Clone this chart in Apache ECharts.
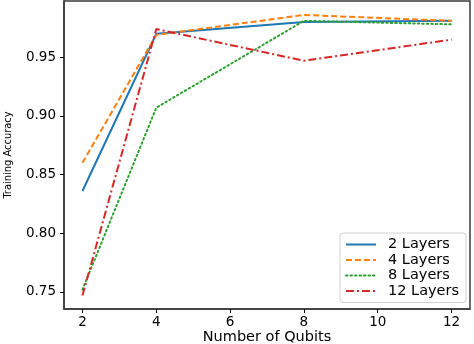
<!DOCTYPE html>
<html>
<head>
<meta charset="utf-8">
<script src="https://cdn.jsdelivr.net/npm/echarts@6/dist/echarts.min.js"></script>
<style>
html,body{margin:0;padding:0;background:#fff;}
#chart{width:474px;height:344px;}
</style>
</head>
<body>
<div id="chart"></div>
<script>
const qubits = [2, 4, 8, 12];
const layers2 = [0.836, 0.970, 0.980, 0.981];
const layers4 = [0.860, 0.969, 0.986, 0.981];
const layers8 = [0.752, 0.907, 0.981, 0.978];
const layers12 = [0.747, 0.974, 0.947, 0.965];
const xTicks = [2, 4, 6, 8, 10, 12];
const yTicks = [0.75, 0.80, 0.85, 0.90, 0.95];
const seriesNames = ['2 Layers', '4 Layers', '8 Layers', '12 Layers'];

const font = 'DejaVu Sans';
function pairs(ys) { return qubits.map((q, i) => [q, ys[i]]); }

const chart = echarts.init(document.getElementById('chart'), null, {renderer: 'canvas'});
const mk = (name, data, color, type, cap) => ({
  name, type: 'line', data: pairs(data), symbol: 'none',
  lineStyle: {color, width: 2, type, cap: cap || 'butt'}, itemStyle: {color}, z: 3
});
chart.setOption({
  animation: false,
  backgroundColor: '#fff',
  grid: {left: 64, right: 4, top: 1, bottom: 35, show: true, borderColor: '#3a3a3a', borderWidth: 1.5,
    containLabel: false, outerBoundsMode: 'none'},
  xAxis: {
    type: 'value', min: 1.5, max: 12.5,
    name: 'Number of Qubits', nameLocation: 'middle', nameGap: 21, nameMoveOverlap: false,
    nameTextStyle: {fontFamily: font, fontSize: 14.5, color: '#000'},
    axisLine: {show: true, lineStyle: {color: '#3a3a3a', width: 1.5}},
    axisTick: {show: true, length: 4, inside: false, customValues: xTicks, lineStyle: {color: '#000'}},
    axisLabel: {fontFamily: font, fontSize: 13.5, color: '#000', margin: 6, customValues: xTicks},
    splitLine: {show: false}
  },
  yAxis: {
    type: 'value', min: 0.7355, max: 0.9979,
    name: 'Training Accuracy', nameLocation: 'middle', nameGap: 50, nameMoveOverlap: false,
    nameTextStyle: {fontFamily: 'DejaVu Sans Condensed', fontSize: 11, color: '#000'},
    axisLine: {show: true, lineStyle: {color: '#3a3a3a', width: 1.5}},
    axisTick: {show: true, length: 4, customValues: yTicks, lineStyle: {color: '#000'}},
    axisLabel: {fontFamily: font, fontSize: 13.5, color: '#000', margin: 8, customValues: yTicks,
      formatter: v => v.toFixed(2)},
    splitLine: {show: false}
  },
  legend: {
    orient: 'vertical', left: 340, top: 233,
    data: seriesNames,
    backgroundColor: '#fff', borderColor: '#d0d0d0', borderWidth: 1, borderRadius: 3,
    padding: [4, 7, 4, 5], itemWidth: 30, itemHeight: 12, itemGap: 0.5,
    itemStyle: {opacity: 0},
    textStyle: {fontFamily: font, fontSize: 14.5, lineHeight: 15, color: '#000', padding: [0, 0, 0, 7]}
  },
  series: [
    mk(seriesNames[0], layers2, '#1f77b4', 'solid'),
    mk(seriesNames[1], layers4, '#ff7f0e', [6, 3]),
    mk(seriesNames[2], layers8, '#2ca02c', [1.5, 3], 'round'),
    mk(seriesNames[3], layers12, '#d62728', [8, 3, 2, 3])
  ]
});
</script>
</body>
</html>
